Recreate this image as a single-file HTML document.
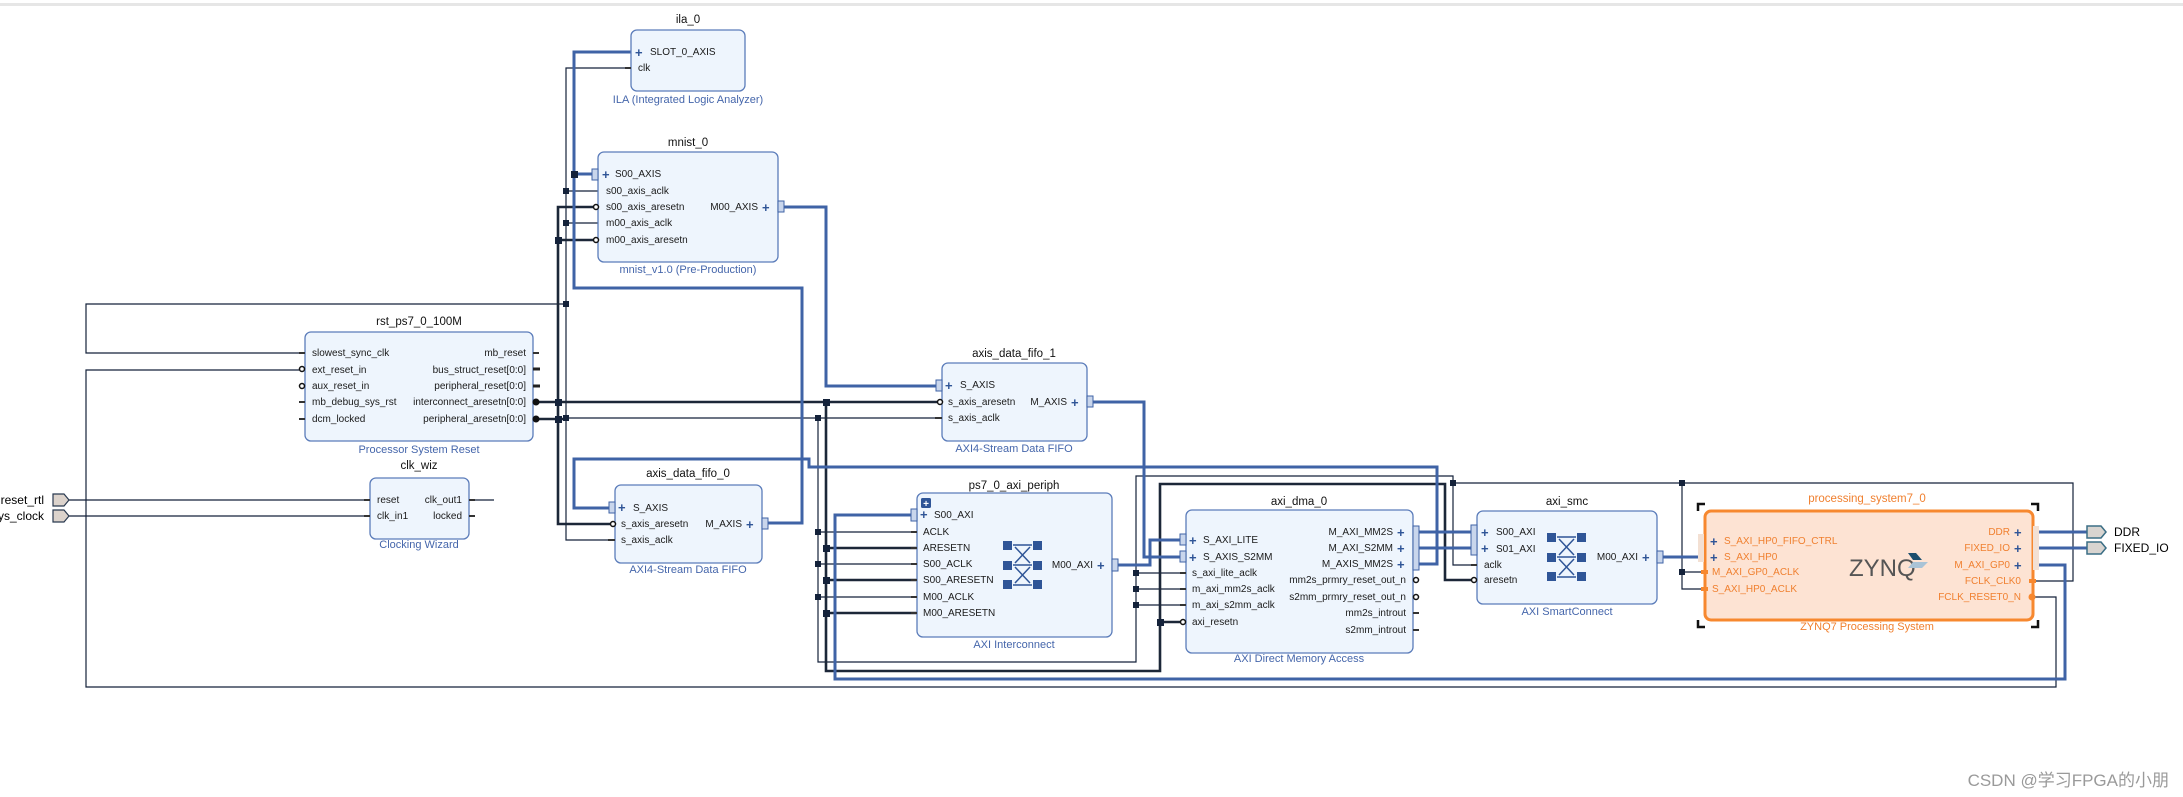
<!DOCTYPE html>
<html><head><meta charset="utf-8"><style>
html,body{margin:0;padding:0;background:#fff;}
svg{display:block;}
text{font-family:"Liberation Sans","Noto Sans CJK SC",sans-serif;}
.p{font-size:10px;fill:#1a1a1a;}
.r{font-size:10px;fill:#1a1a1a;text-anchor:end;}
.t{font-size:11.5px;fill:#111;text-anchor:middle;}
.l{font-size:11px;fill:#4566ab;text-anchor:middle;}
.o{font-size:10px;fill:#f08030;}
.or{font-size:10px;fill:#f08030;text-anchor:end;}
.pl{font-size:13px;font-weight:bold;fill:#2f5597;}
.box{fill:#eef5fd;stroke:#5b7cba;stroke-width:1.3;}
.bw{fill:none;stroke:#3f63a6;stroke-width:3;}
.tw{fill:none;stroke:#14223a;stroke-width:1.2;}
.kw{fill:none;stroke:#1c2738;stroke-width:2.6;}
.st{stroke:#333;stroke-width:2;}
.dot{fill:#14223a;}
</style></head><body>
<svg width="2183" height="797" viewBox="0 0 2183 797" xmlns="http://www.w3.org/2000/svg">
<rect x="0" y="3" width="2183" height="3" fill="#e6e6e6"/>

<!-- ===== wires: thin clock ===== -->
<path class="tw" d="M631 68 H566 V540 H615"/>
<path class="tw" d="M566 191 H598 M566 223 H598"/>
<path class="tw" d="M566 304 H86 V353 H306"/>
<path class="tw" d="M566 418 H941"/>
<path class="tw" d="M818 418 V662 H1136 V476 H1453 V565 H1477"/>
<path class="tw" d="M818 532 H917 M818 564 H917 M818 597 H917"/>
<path class="tw" d="M1136 573 H1186 M1136 589 H1186 M1136 605 H1186"/>
<path class="tw" d="M1453 483 H2073 V581 H2033"/>
<path class="tw" d="M1682 483 V589 H1705 M1682 572 H1705"/>
<path class="tw" d="M2033 597 H2056 V687 H86 V370 H306"/>
<path class="tw" d="M69 500 H370 M69 516 H370 M469 500 H494"/>
<!-- ===== thick reset ===== -->
<path class="kw" d="M533 402 H941"/>
<path class="kw" d="M533 419 H566"/>
<path class="kw" d="M598 207 H558 V524 H615 M558 240 H598"/>
<path class="kw" d="M826 402 V671 H1160 V484 H1445 V580 H1477"/>
<path class="kw" d="M826 548 H917 M826 580 H917 M826 613 H917 M1160 622 H1186"/>
<!-- ===== blue AXI ===== -->
<path class="bw" d="M778 207 H826 V386 H941"/>
<path class="bw" d="M762 523 H802 V288 H574 V52 H631 M574 174 H598"/>
<path class="bw" d="M1413 564 H1437 V467 H809 V459 H574 V508 H615"/>
<path class="bw" d="M1087 402 H1144 V557 H1186"/>
<path class="bw" d="M1112 565 H1150 V540 H1186"/>
<path class="bw" d="M1413 532 H1477 M1413 548 H1477"/>
<path class="bw" d="M1657 557 H1705"/>
<path class="bw" d="M2033 565 H2065 V679 H835 V515 H917"/>
<path class="bw" d="M2033 532 H2087 M2033 548 H2087"/>
<!-- dots -->
<g class="dot">
<rect x="563" y="188" width="6" height="6"/><rect x="563" y="220" width="6" height="6"/><rect x="563" y="301" width="6" height="6"/>
<rect x="555" y="237" width="7" height="7"/><rect x="555" y="399" width="7" height="7"/><rect x="555" y="416" width="7" height="7"/>
<rect x="563" y="415" width="6" height="6"/><rect x="815" y="415" width="6" height="6"/><rect x="823" y="399" width="7" height="7"/>
<rect x="815" y="529" width="6" height="6"/><rect x="815" y="561" width="6" height="6"/><rect x="815" y="594" width="6" height="6"/>
<rect x="823" y="545" width="7" height="7"/><rect x="823" y="577" width="7" height="7"/><rect x="823" y="610" width="7" height="7"/>
<rect x="1133" y="570" width="6" height="6"/><rect x="1133" y="586" width="6" height="6"/><rect x="1133" y="602" width="6" height="6"/>
<rect x="1157" y="619" width="7" height="7"/><rect x="1450" y="480" width="6" height="6"/><rect x="1679" y="480" width="6" height="6"/><rect x="1679" y="569" width="6" height="6"/>
<rect x="571" y="171" width="7" height="7"/>
</g>

<!-- external ports -->
<g fill="#dcd3cc" stroke="#2a3a50" stroke-width="1.2">
<path d="M53 494 H64 L69 500 L64 506 H53 Z"/><path d="M53 510 H64 L69 516 L64 522 H53 Z"/>
</g>
<g fill="#d8d4d0" stroke="#3b6e85" stroke-width="1.5">
<path d="M2087 526 H2101 L2106 532 L2101 538 H2087 Z"/><path d="M2087 542 H2101 L2106 548 L2101 554 H2087 Z"/>
</g>
<text x="44" y="504" style="font-size:12px;text-anchor:end">reset_rtl</text>
<text x="44" y="520" style="font-size:12px;text-anchor:end">sys_clock</text>
<text x="2114" y="536" style="font-size:12px">DDR</text>
<text x="2114" y="552" style="font-size:12px">FIXED_IO</text>

<!-- ===== ila_0 ===== -->
<text class="t" x="688" y="23">ila_0</text>
<rect class="box" x="631" y="30" width="114" height="61" rx="6"/>
<line class="st" x1="625" y1="68" x2="631" y2="68"/>
<text class="pl" x="635" y="57">+</text><text class="p" x="650" y="55">SLOT_0_AXIS</text>
<text class="p" x="638" y="71">clk</text>
<text class="l" x="688" y="103">ILA (Integrated Logic Analyzer)</text>

<!-- ===== mnist_0 ===== -->
<text class="t" x="688" y="146">mnist_0</text>
<rect class="box" x="598" y="152" width="180" height="110" rx="6"/>
<rect x="592" y="169" width="6" height="11" fill="#c9d6ec" stroke="#3f63a6" stroke-width="1"/>
<text class="pl" x="602" y="179">+</text><text class="p" x="615" y="177">S00_AXIS</text>
<text class="p" x="606" y="194">s00_axis_aclk</text>
<text class="p" x="606" y="210">s00_axis_aresetn</text>
<text class="p" x="606" y="226">m00_axis_aclk</text>
<text class="p" x="606" y="243">m00_axis_aresetn</text>
<circle cx="596" cy="207" r="2.5" fill="#fff" stroke="#111" stroke-width="1.5"/>
<circle cx="596" cy="240" r="2.5" fill="#fff" stroke="#111" stroke-width="1.5"/>
<text class="r" x="758" y="210">M00_AXIS</text><text class="pl" x="762" y="212">+</text>
<rect x="778" y="201" width="6" height="11" fill="#c9d6ec" stroke="#3f63a6" stroke-width="1"/>
<text class="l" x="688" y="273">mnist_v1.0 (Pre-Production)</text>

<!-- ===== rst ===== -->
<text class="t" x="419" y="325">rst_ps7_0_100M</text>
<rect class="box" x="305" y="332" width="228" height="109" rx="6"/>
<line class="st" x1="299" y1="353" x2="305" y2="353"/><line class="st" x1="299" y1="402" x2="305" y2="402"/><line class="st" x1="299" y1="419" x2="305" y2="419"/>
<circle cx="302" cy="369" r="2.5" fill="#fff" stroke="#111" stroke-width="1.5"/><circle cx="302" cy="386" r="2.5" fill="#fff" stroke="#111" stroke-width="1.5"/>
<text class="p" x="312" y="356">slowest_sync_clk</text>
<text class="p" x="312" y="373">ext_reset_in</text>
<text class="p" x="312" y="389">aux_reset_in</text>
<text class="p" x="312" y="405">mb_debug_sys_rst</text>
<text class="p" x="312" y="422">dcm_locked</text>
<text class="r" x="526" y="356">mb_reset</text>
<text class="r" x="526" y="373">bus_struct_reset[0:0]</text>
<text class="r" x="526" y="389">peripheral_reset[0:0]</text>
<text class="r" x="526" y="405">interconnect_aresetn[0:0]</text>
<text class="r" x="526" y="422">peripheral_aresetn[0:0]</text>
<line class="st" x1="533" y1="353" x2="539" y2="353"/>
<line x1="533" y1="369" x2="540" y2="369" stroke="#222" stroke-width="3"/><line x1="533" y1="386" x2="540" y2="386" stroke="#222" stroke-width="3"/>
<circle cx="536" cy="402" r="3.5" fill="#111"/><circle cx="536" cy="419" r="3.5" fill="#111"/>
<text class="l" x="419" y="453">Processor System Reset</text>

<!-- ===== clk_wiz ===== -->
<text class="t" x="419" y="469">clk_wiz</text>
<rect class="box" x="370" y="478" width="99" height="61" rx="6"/>
<line class="st" x1="364" y1="500" x2="370" y2="500"/><line class="st" x1="364" y1="516" x2="370" y2="516"/>
<line class="st" x1="469" y1="500" x2="475" y2="500"/><line class="st" x1="469" y1="516" x2="475" y2="516"/>
<text class="p" x="377" y="503">reset</text><text class="p" x="377" y="519">clk_in1</text>
<text class="r" x="462" y="503">clk_out1</text><text class="r" x="462" y="519">locked</text>
<text class="l" x="419" y="548">Clocking Wizard</text>

<!-- ===== fifo_1 ===== -->
<text class="t" x="1014" y="357">axis_data_fifo_1</text>
<rect class="box" x="942" y="363" width="145" height="78" rx="6"/>
<rect x="936" y="380" width="6" height="11" fill="#c9d6ec" stroke="#3f63a6" stroke-width="1"/>
<text class="pl" x="945" y="390">+</text><text class="p" x="960" y="388">S_AXIS</text>
<circle cx="940" cy="402" r="2.5" fill="#fff" stroke="#111" stroke-width="1.5"/><line class="st" x1="935" y1="418" x2="942" y2="418"/>
<text class="p" x="948" y="405">s_axis_aresetn</text><text class="p" x="948" y="421">s_axis_aclk</text>
<text class="r" x="1067" y="405">M_AXIS</text><text class="pl" x="1071" y="407">+</text>
<rect x="1087" y="396" width="6" height="11" fill="#c9d6ec" stroke="#3f63a6" stroke-width="1"/>
<text class="l" x="1014" y="452">AXI4-Stream Data FIFO</text>

<!-- ===== fifo_0 ===== -->
<text class="t" x="688" y="477">axis_data_fifo_0</text>
<rect class="box" x="615" y="485" width="147" height="78" rx="6"/>
<rect x="609" y="502" width="6" height="11" fill="#c9d6ec" stroke="#3f63a6" stroke-width="1"/>
<text class="pl" x="618" y="512">+</text><text class="p" x="633" y="511">S_AXIS</text>
<circle cx="613" cy="524" r="2.5" fill="#fff" stroke="#111" stroke-width="1.5"/><line class="st" x1="608" y1="540" x2="615" y2="540"/>
<text class="p" x="621" y="527">s_axis_aresetn</text><text class="p" x="621" y="543">s_axis_aclk</text>
<text class="r" x="742" y="527">M_AXIS</text><text class="pl" x="746" y="529">+</text>
<rect x="762" y="518" width="6" height="11" fill="#c9d6ec" stroke="#3f63a6" stroke-width="1"/>
<text class="l" x="688" y="573">AXI4-Stream Data FIFO</text>

<!-- ===== periph ===== -->
<text class="t" x="1014" y="489">ps7_0_axi_periph</text>
<rect class="box" x="917" y="493" width="195" height="144" rx="6"/>
<rect x="921" y="498" width="10" height="10" rx="1.5" fill="#2f5597"/>
<text x="926" y="507" style="font-size:10px;fill:#fff;text-anchor:middle;font-weight:bold">+</text>
<rect x="911" y="509" width="6" height="12" fill="#c9d6ec" stroke="#3f63a6" stroke-width="1"/>
<text class="pl" x="920" y="519">+</text><text class="p" x="934" y="518">S00_AXI</text>
<g><line class="st" x1="911" y1="532" x2="917" y2="532"/><line class="st" x1="911" y1="548" x2="917" y2="548"/><line class="st" x1="911" y1="564" x2="917" y2="564"/><line class="st" x1="911" y1="580" x2="917" y2="580"/><line class="st" x1="911" y1="597" x2="917" y2="597"/><line class="st" x1="911" y1="613" x2="917" y2="613"/></g>
<text class="p" x="923" y="535">ACLK</text><text class="p" x="923" y="551">ARESETN</text><text class="p" x="923" y="567">S00_ACLK</text>
<text class="p" x="923" y="583">S00_ARESETN</text><text class="p" x="923" y="600">M00_ACLK</text><text class="p" x="923" y="616">M00_ARESETN</text>
<text class="r" x="1093" y="568">M00_AXI</text><text class="pl" x="1097" y="570">+</text>
<rect x="1112" y="559" width="6" height="12" fill="#c9d6ec" stroke="#3f63a6" stroke-width="1"/>
<g id="xb" fill="#2f5597">
<rect x="1003" y="541" width="9" height="9"/><rect x="1033" y="541" width="9" height="9"/>
<rect x="1003" y="561" width="9" height="9"/><rect x="1033" y="561" width="9" height="9"/>
<rect x="1003" y="580" width="9" height="9"/><rect x="1033" y="580" width="9" height="9"/>
<path d="M1013 545 H1032 M1013 565 H1032 M1013 585 H1032 M1015 547 L1030 563 M1030 547 L1015 563 M1015 567 L1030 583 M1030 567 L1015 583" stroke="#2f5597" stroke-width="1.5" fill="none"/>
</g>
<text class="l" x="1014" y="648">AXI Interconnect</text>

<!-- ===== dma ===== -->
<text class="t" x="1299" y="505">axi_dma_0</text>
<rect class="box" x="1186" y="510" width="227" height="143" rx="6"/>
<rect x="1180" y="534" width="6" height="11" fill="#c9d6ec" stroke="#3f63a6" stroke-width="1"/>
<rect x="1180" y="551" width="6" height="11" fill="#c9d6ec" stroke="#3f63a6" stroke-width="1"/>
<text class="pl" x="1189" y="545">+</text><text class="p" x="1203" y="543">S_AXI_LITE</text>
<text class="pl" x="1189" y="562">+</text><text class="p" x="1203" y="560">S_AXIS_S2MM</text>
<line class="st" x1="1180" y1="573" x2="1186" y2="573"/><line class="st" x1="1180" y1="589" x2="1186" y2="589"/><line class="st" x1="1180" y1="605" x2="1186" y2="605"/>
<circle cx="1183" cy="622" r="2.5" fill="#fff" stroke="#111" stroke-width="1.5"/>
<text class="p" x="1192" y="576">s_axi_lite_aclk</text><text class="p" x="1192" y="592">m_axi_mm2s_aclk</text>
<text class="p" x="1192" y="608">m_axi_s2mm_aclk</text><text class="p" x="1192" y="625">axi_resetn</text>
<text class="r" x="1393" y="535">M_AXI_MM2S</text><text class="pl" x="1397" y="537">+</text>
<text class="r" x="1393" y="551">M_AXI_S2MM</text><text class="pl" x="1397" y="553">+</text>
<text class="r" x="1393" y="567">M_AXIS_MM2S</text><text class="pl" x="1397" y="569">+</text>
<rect x="1413" y="526" width="6" height="44" fill="#c9d6ec" stroke="#3f63a6" stroke-width="1"/>
<text class="r" x="1406" y="583">mm2s_prmry_reset_out_n</text><text class="r" x="1406" y="600">s2mm_prmry_reset_out_n</text>
<text class="r" x="1406" y="616">mm2s_introut</text><text class="r" x="1406" y="633">s2mm_introut</text>
<circle cx="1416" cy="580" r="2.5" fill="#fff" stroke="#111" stroke-width="1.5"/><circle cx="1416" cy="597" r="2.5" fill="#fff" stroke="#111" stroke-width="1.5"/>
<line class="st" x1="1413" y1="613" x2="1419" y2="613"/><line class="st" x1="1413" y1="630" x2="1419" y2="630"/>
<text class="l" x="1299" y="662">AXI Direct Memory Access</text>

<!-- ===== smc ===== -->
<text class="t" x="1567" y="505">axi_smc</text>
<rect class="box" x="1477" y="511" width="180" height="93" rx="6"/>
<rect x="1471" y="525" width="6" height="30" fill="#c9d6ec" stroke="#3f63a6" stroke-width="1"/>
<text class="pl" x="1481" y="537">+</text><text class="p" x="1496" y="535">S00_AXI</text>
<text class="pl" x="1481" y="553">+</text><text class="p" x="1496" y="552">S01_AXI</text>
<line class="st" x1="1471" y1="565" x2="1477" y2="565"/>
<circle cx="1474" cy="580" r="2.5" fill="#fff" stroke="#111" stroke-width="1.5"/>
<text class="p" x="1484" y="568">aclk</text><text class="p" x="1484" y="583">aresetn</text>
<text class="r" x="1638" y="560">M00_AXI</text><text class="pl" x="1642" y="562">+</text>
<rect x="1657" y="551" width="6" height="12" fill="#c9d6ec" stroke="#3f63a6" stroke-width="1"/>
<use href="#xb" transform="translate(544,-8)"/>
<text class="l" x="1567" y="615">AXI SmartConnect</text>

<!-- ===== ps7 ===== -->
<text x="1867" y="502" style="font-size:11.5px;fill:#f08030;text-anchor:middle">processing_system7_0</text>
<path d="M1698 511 V504 H1705 M2031 504 H2038 V511 M1698 620 V627 H1705 M2031 627 H2038 V620" fill="none" stroke="#111" stroke-width="2.5"/>
<rect x="1705" y="511" width="328" height="109" rx="6" fill="#fde3d3" stroke="#f7882f" stroke-width="3"/>
<rect x="1698" y="534" width="6" height="28" fill="#f3e0d3"/>
<text class="pl" x="1710" y="546">+</text><text class="o" x="1724" y="544">S_AXI_HP0_FIFO_CTRL</text>
<text class="pl" x="1710" y="562">+</text><text class="o" x="1724" y="560">S_AXI_HP0</text>
<rect x="1701" y="570" width="7" height="4" fill="#f7882f"/><rect x="1701" y="587" width="7" height="4" fill="#f7882f"/>
<text class="o" x="1712" y="575">M_AXI_GP0_ACLK</text><text class="o" x="1712" y="592">S_AXI_HP0_ACLK</text>
<text class="or" x="2010" y="535">DDR</text><text class="pl" x="2014" y="537">+</text>
<text class="or" x="2010" y="551">FIXED_IO</text><text class="pl" x="2014" y="553">+</text>
<text class="or" x="2010" y="568">M_AXI_GP0</text><text class="pl" x="2014" y="570">+</text>
<rect x="2033" y="526" width="6" height="44" fill="#f3e0d3"/>
<text class="or" x="2021" y="584">FCLK_CLK0</text><text class="or" x="2021" y="600">FCLK_RESET0_N</text>
<rect x="2029" y="579" width="7" height="4" fill="#f7882f"/><circle cx="2032" cy="597" r="3.5" fill="#f7882f"/>
<text x="1849" y="576" style="font-size:24px;fill:#555">ZYNQ</text>
<path d="M1908 553 L1916 553 L1922 560 L1913 560 Z" fill="#1d4f6e"/><path d="M1913 562 L1928 562 L1922 568 L1908 568 Z" fill="#a9c3d6"/>
<text x="1867" y="630" style="font-size:11px;fill:#f08030;text-anchor:middle">ZYNQ7 Processing System</text>

<text x="2169" y="786" style="font-size:17px;fill:#9a9a9a;text-anchor:end">CSDN @学习FPGA的小朋</text>
</svg>
</body></html>
